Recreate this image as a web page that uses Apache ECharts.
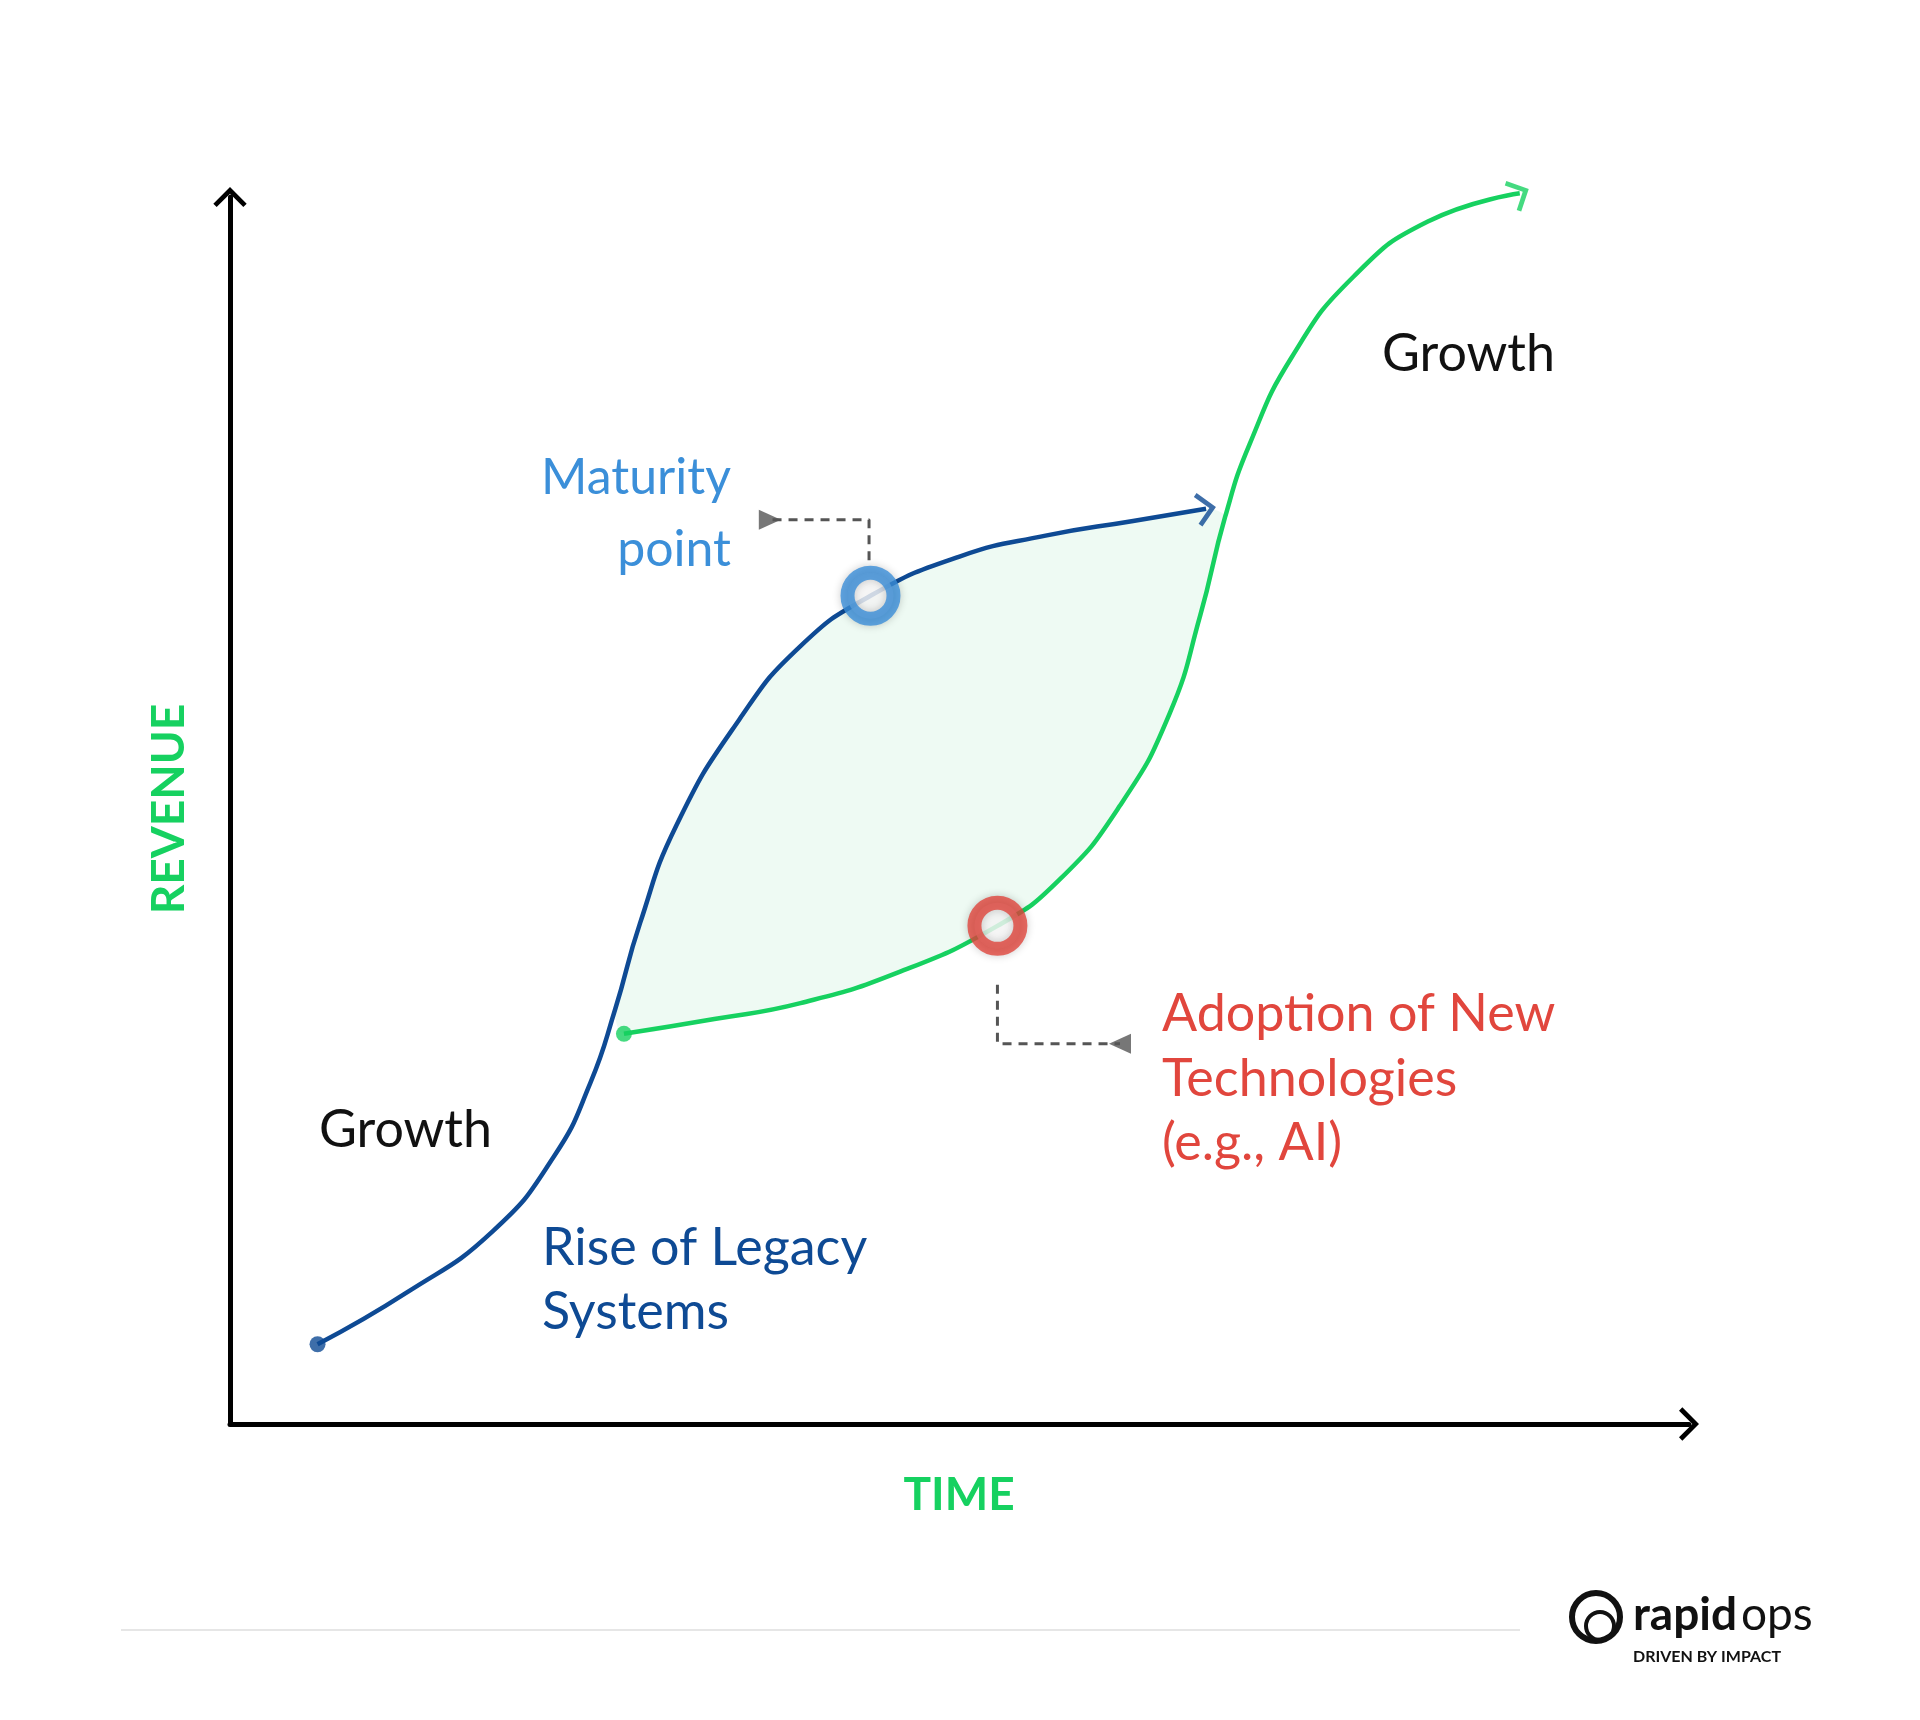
<!DOCTYPE html>
<html>
<head>
<meta charset="utf-8">
<title>S-curve</title>
<script src="https://cdn.jsdelivr.net/npm/echarts@6/dist/echarts.min.js"></script>
<style>html,body{margin:0;background:#fff}#main{width:1920px;height:1720px}</style>
</head>
<body>
<div id="main"></div>
<script>
// legacy curve (time, revenue)
var legacyX = [6.0, 12.1, 18.0, 22.2, 24.7, 26.4, 28.1, 30.6, 34.9, 39.1, 43.9, 50.0, 55.9, 61.9, 66.9];
var legacyY = [6.5, 10.7, 15.7, 21.8, 27.8, 33.8, 40.8, 48.8, 57.4, 63.4, 67.5, 70.7, 72.4, 73.6, 74.6];
// new technology curve
var newX = [27.0, 33.2, 39.1, 45.8, 52.6, 56.8, 61.0, 64.4, 66.5, 68.2, 69.9, 72.8, 77.0, 82.1, 88.4];
var newY = [31.8, 33.0, 34.3, 36.8, 40.6, 44.3, 50.4, 57.9, 65.9, 73.9, 79.9, 87.0, 93.5, 98.0, 100.3];
var maturityPt = [43.9, 67.5];
var adoptionPt = [52.6, 40.6];
var maturityLink = [[43.8, 70.4], [43.8, 73.7], [37.0, 73.7]];
var adoptionLink = [[52.6, 35.8], [52.6, 31.0], [61.0, 31.0]];

var BLUE = '#0e4a94', GREEN = '#16d160', LBLUE = '#3b8fd9', RED = '#e1463d';
function pairs(xs, ys) { return xs.map(function (x, i) { return [x, ys[i]]; }); }
var legacy = pairs(legacyX, legacyY);
var fresh = pairs(newX, newY);
var chevron = 'path://M0,10 L10,0 L20,10 L18,12 L10,4 L2,12 Z';

// fill polygon: new curve up to meeting point, then legacy back down
var zone = fresh.slice(0, 10).concat(legacy.slice(5).reverse());

var chart = echarts.init(document.getElementById('main'));
var txt = function (x, y, s, color, size, align, weight) {
  return { type: 'text', x: x, y: y, style: { text: s, fill: color, font: (weight || 'normal') + ' ' + size + 'px Lato, "Open Sans", sans-serif', textAlign: align || 'left', textVerticalAlign: 'middle' } };
};
chart.setOption({
  animation: false,
  grid: { left: 230, right: 231, top: 197, bottom: 296 },
  xAxis: { type: 'value', min: 0, max: 100, splitLine: { show: false }, axisTick: { show: false }, axisLabel: { show: false },
    axisLine: { lineStyle: { color: '#000', width: 5 }, symbol: ['none', chevron], symbolSize: [34, 20] } },
  yAxis: { type: 'value', min: 0, max: 100, splitLine: { show: false }, axisTick: { show: false }, axisLabel: { show: false },
    axisLine: { lineStyle: { color: '#000', width: 5 }, symbol: ['none', chevron], symbolSize: [34, 20] } },
  series: [
    { type: 'custom', z: 1, data: [0], renderItem: function (p, api) {
        return { type: 'polygon', shape: { points: zone.map(function (d) { return api.coord(d); }), smooth: 0.3 },
          style: { fill: '#eefaf3' } };
      } },
    { type: 'line', data: legacy, smooth: 0.5, clip: false, symbol: 'none', lineStyle: { color: BLUE, width: 4.5 }, z: 3 },
    { type: 'line', data: fresh, smooth: 0.5, clip: false, symbol: 'none', lineStyle: { color: GREEN, width: 4.5 }, z: 3 },
    { type: 'scatter', data: [legacy[0]], symbolSize: 16, itemStyle: { color: BLUE }, z: 4 },
    { type: 'scatter', data: [fresh[0]], symbolSize: 16, itemStyle: { color: GREEN }, z: 4 },
    { type: 'scatter', clip: false, data: [legacy[legacy.length - 1]], symbol: chevron, symbolSize: [34, 20], symbolRotate: -80, itemStyle: { color: BLUE }, z: 4 },
    { type: 'scatter', clip: false, data: [fresh[fresh.length - 1]], symbol: chevron, symbolSize: [34, 20], symbolRotate: -64, itemStyle: { color: GREEN }, z: 4 },
    { type: 'line', data: maturityLink, showSymbol: false, lineStyle: { color: '#555', width: 3, type: [9, 7] }, z: 2 },
    { type: 'line', data: adoptionLink, showSymbol: false, lineStyle: { color: '#555', width: 3, type: [9, 7] }, z: 2 },
    { type: 'scatter', data: [maturityLink[2]], symbol: 'triangle', symbolSize: [20, 22], symbolRotate: -90, itemStyle: { color: '#555' }, z: 4 },
    { type: 'scatter', data: [adoptionLink[2]], symbol: 'triangle', symbolSize: [20, 22], symbolRotate: 90, itemStyle: { color: '#555' }, z: 4 },
    { type: 'scatter', data: [maturityPt], symbolSize: 46, itemStyle: { color: '#fff', borderColor: LBLUE, borderWidth: 14, shadowBlur: 8, shadowColor: 'rgba(0,0,0,0.25)' }, z: 5 },
    { type: 'scatter', data: [adoptionPt], symbolSize: 46, itemStyle: { color: '#fff', borderColor: RED, borderWidth: 14, shadowBlur: 8, shadowColor: 'rgba(0,0,0,0.25)' }, z: 5 }
  ],
  graphic: [
    txt(731, 478, 'Maturity', LBLUE, 50, 'right'),
    txt(731, 550, 'point', LBLUE, 50, 'right'),
    txt(1382, 354, 'Growth', '#111', 52),
    txt(798, 731, 'Dilemma or', '#111', 50),
    txt(798, 795, 'Stall Zone', '#111', 50),
    txt(1162, 1014, 'Adoption of New', RED, 52),
    txt(1162, 1079, 'Technologies', RED, 52),
    txt(1162, 1143, '(e.g., AI)', RED, 52),
    txt(319, 1130, 'Growth', '#111', 52),
    txt(542, 1248, 'Rise of Legacy', BLUE, 52),
    txt(542, 1312, 'Systems', BLUE, 52),
    txt(959, 1495, 'TIME', GREEN, 46, 'center', 'bold'),
    { type: 'text', x: 169, y: 809, rotation: Math.PI / 2, style: { text: 'REVENUE', fill: GREEN, font: 'bold 46px Lato, sans-serif', textAlign: 'center', textVerticalAlign: 'middle' } },
    { type: 'line', shape: { x1: 121, y1: 1630, x2: 1520, y2: 1630 }, style: { stroke: '#e6e6e6', lineWidth: 2 } },
    { type: 'circle', shape: { cx: 1596, cy: 1617, r: 24 }, style: { fill: 'none', stroke: '#111', lineWidth: 6 } },
    { type: 'circle', shape: { cx: 1600, cy: 1626, r: 14 }, style: { fill: 'none', stroke: '#111', lineWidth: 4 } },
    txt(1633, 1615, 'rapid', '#111', 46, 'left', 'bold'),
    txt(1741, 1615, 'ops', '#111', 46, 'left'),
    txt(1633, 1657, 'DRIVEN BY IMPACT', '#111', 16, 'left', 'bold')
  ]
});
</script>
</body>
</html>
